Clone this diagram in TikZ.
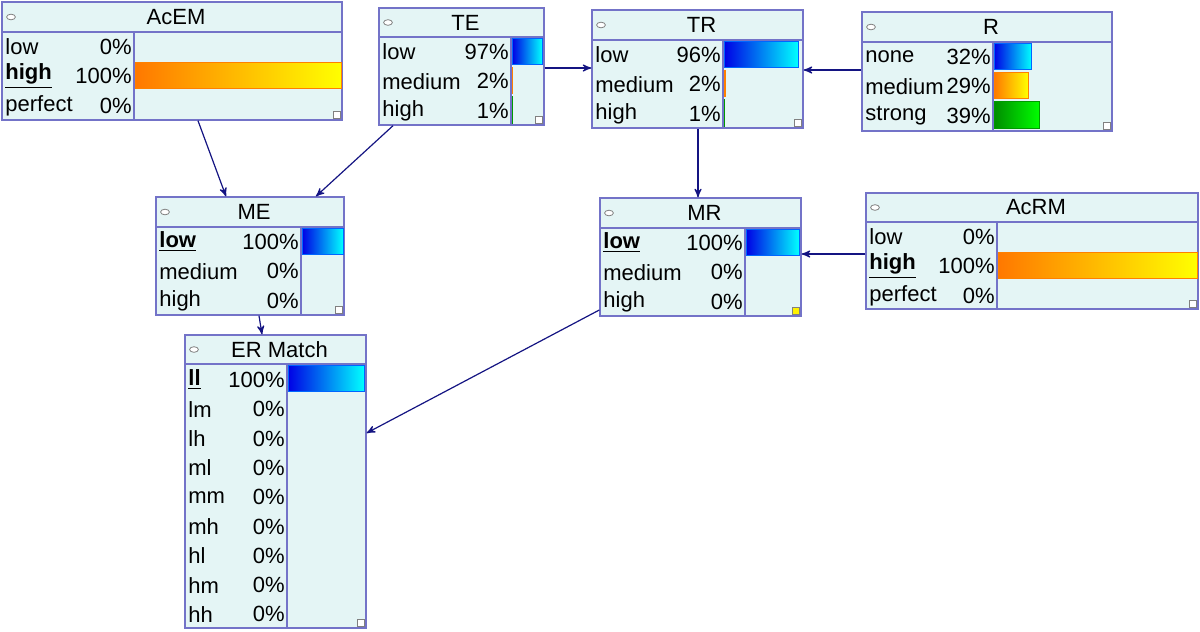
\documentclass[tikz,border=0pt]{standalone}
\usepackage{fontspec}
\setmainfont{Liberation Sans}
\usetikzlibrary{arrows,fit}
\definecolor{bnline}{RGB}{115,115,200}
\definecolor{bnfill}{RGB}{228,245,245}
\definecolor{bnlink}{RGB}{20,20,130}
\definecolor{bnorange}{RGB}{255,120,0}
\tikzset{
    %Define standard arrow tip
    >=stealth',
    %Define style for the network boxes
    netbox/.style={
           rectangle,
           draw=bnline, fill=bnfill,
           line width=0.7pt,
           inner sep=0pt},
    sepline/.style={draw=bnline, line width=0.7pt},
    oval/.style={draw=gray, fill=white, line width=0.4pt},
    plusbox/.style={
           rectangle,
           draw=gray, fill=white,
           line width=0.3pt,
           minimum size=3.5pt,
           inner sep=0pt},
    titletext/.style={font=\fontsize{11}{13}\selectfont, inner sep=0pt},
    state/.style={anchor=west, font=\fontsize{11}{13}\selectfont, inner sep=0pt},
    prob/.style={anchor=east, font=\fontsize{11}{13}\selectfont, inner sep=0pt},
    % Define bar styles
    bluebar/.style={left color=blue!90!black, right color=cyan, draw=blue!60!cyan, line width=0.4pt},
    orangebar/.style={left color=bnorange, right color=yellow, draw=orange, line width=0.4pt},
    greenbar/.style={left color=green!55!black, right color=green, draw=green!60!black, line width=0.4pt},
    nobar/.style={},
    % Define arrow style
    pil/.style={
           ->,
           draw=bnlink,
           line width=0.6pt}
}
% frame of one box: name, x1, y1, x2, y2, title line, divider, title
\newcommand{\bnframe}[8]{%
  \node[netbox, fit={(#2,#3) (#4,#5)}] (#1) {};
  \draw[sepline] (#2,#6) -- (#4,#6) (#7,#6) -- (#7,#5);
  \draw[oval] (#2+9,{(#3+#6)/2}) ellipse (2.2pt and 1.4pt);
  \node[titletext] (#1-title) at ({(#2+#4)/2+4},{(#3+#6)/2}) {#8};
  \node[plusbox] (#1-plus) at (#4-5,#5-5) {};
}

\begin{document}
\begin{tikzpicture}[x=0.5pt,y=-0.5pt]
\useasboundingbox (0,0) rectangle (1200,632);

 %AcEM
\bnframe{acem}{2}{2}{342}{120}{32}{134}{AcEM}
\foreach \s/\p/\c [count=\i] in {low/0/nobar, {\underline{\textbf{high}}}/100/orangebar, perfect/0/nobar}{
  \node[state] (acem-s\i) at (5,47+\i*29.3-29.3) {\s};
  \node[prob] (acem-p\i) at (132,47+\i*29.3-29.3) {\p\%};
  \path[\c] (135,33+\i*29.3-29.3) rectangle ++(\p*2.06,26.5);
}

 %TE
\bnframe{te}{379}{8}{544}{125}{37}{511}{TE}
\foreach \s/\p/\c [count=\i] in {low/97/bluebar, medium/2/orangebar, high/1/greenbar}{
  \node[state] (te-s\i) at (382,52+\i*29.3-29.3) {\s};
  \node[prob] (te-p\i) at (509,52+\i*29.3-29.3) {\p\%};
  \path[\c] (512,38+\i*29.3-29.3) rectangle ++(\p*0.31,26.5);
}

 %TR
\bnframe{tr}{592}{10}{803}{128}{40}{723}{TR}
\foreach \s/\p/\c [count=\i] in {low/96/bluebar, medium/2/orangebar, high/1/greenbar}{
  \node[state] (tr-s\i) at (595,55+\i*29.3-29.3) {\s};
  \node[prob] (tr-p\i) at (721,55+\i*29.3-29.3) {\p\%};
  \path[\c] (724,41+\i*29.3-29.3) rectangle ++(\p*0.77,26.5);
}

 %R
\bnframe{r}{862}{12}{1112}{131}{42}{993}{R}
\foreach \s/\p/\c [count=\i] in {none/32/bluebar, medium/29/orangebar, strong/39/greenbar}{
  \node[state] (r-s\i) at (865,57+\i*29.3-29.3) {\s};
  \node[prob] (r-p\i) at (991,57+\i*29.3-29.3) {\p\%};
  \path[\c] (994,43+\i*29.3-29.3) rectangle ++(\p*1.17,26.5);
}

 %ME
\bnframe{me}{156}{197}{344}{315}{227}{301}{ME}
\foreach \s/\p/\c [count=\i] in {{\underline{\textbf{low}}}/100/bluebar, medium/0/nobar, high/0/nobar}{
  \node[state] (me-s\i) at (159,242+\i*29.3-29.3) {\s};
  \node[prob] (me-p\i) at (299,242+\i*29.3-29.3) {\p\%};
  \path[\c] (302,228+\i*29.3-29.3) rectangle ++(\p*0.41,26.5);
}

 %MR
\bnframe{mr}{600}{198}{801}{316}{228}{745}{MR}
\node[plusbox, fill=yellow] (mr-plus2) at (796,311) {};
\foreach \s/\p/\c [count=\i] in {{\underline{\textbf{low}}}/100/bluebar, medium/0/nobar, high/0/nobar}{
  \node[state] (mr-s\i) at (603,243+\i*29.3-29.3) {\s};
  \node[prob] (mr-p\i) at (743,243+\i*29.3-29.3) {\p\%};
  \path[\c] (746,229+\i*29.3-29.3) rectangle ++(\p*0.53,26.5);
}

 %AcRM
\bnframe{acrm}{866}{193}{1198}{309}{222}{997}{AcRM}
\foreach \s/\p/\c [count=\i] in {low/0/nobar, {\underline{\textbf{high}}}/100/orangebar, perfect/0/nobar}{
  \node[state] (acrm-s\i) at (869,237+\i*29.3-29.3) {\s};
  \node[prob] (acrm-p\i) at (995,237+\i*29.3-29.3) {\p\%};
  \path[\c] (998,223+\i*29.3-29.3) rectangle ++(\p*1.99,26.5);
}

 %ER Match
\bnframe{er}{185}{335}{366}{628}{364}{287}{ER Match}
\foreach \s/\p/\c [count=\i] in {{\underline{\textbf{ll}}}/100/bluebar, lm/0/nobar, lh/0/nobar, ml/0/nobar, mm/0/nobar, mh/0/nobar, hl/0/nobar, hm/0/nobar, hh/0/nobar}{
  \node[state] (er-s\i) at (188,380+\i*29.3-29.3) {\s};
  \node[prob] (er-p\i) at (285,380+\i*29.3-29.3) {\p\%};
  \path[\c] (288,365+\i*29.3-29.3) rectangle ++(\p*0.76,26.5);
}

 %links
\draw[pil] (acem.south -| 198,0) -- (me.north -| 226,0);
\draw[pil] (te.south -| 393,0) -- (me.north -| 316,0);
\draw[pil] (te.east |- 0,68) -- (tr.west |- 0,68);
\draw[pil] (r.west |- 0,70) -- (tr.east |- 0,70);
\draw[pil] (tr.south -| 698,0) -- (mr.north -| 698,0);
\draw[pil] (acrm.west |- 0,254) -- (mr.east |- 0,254);
\draw[pil] (me.south -| 259,0) -- (er.north -| 262,0);
\draw[pil] (mr.west |- 0,310) -- (er.east |- 0,433);

\end{tikzpicture}
\end{document}
